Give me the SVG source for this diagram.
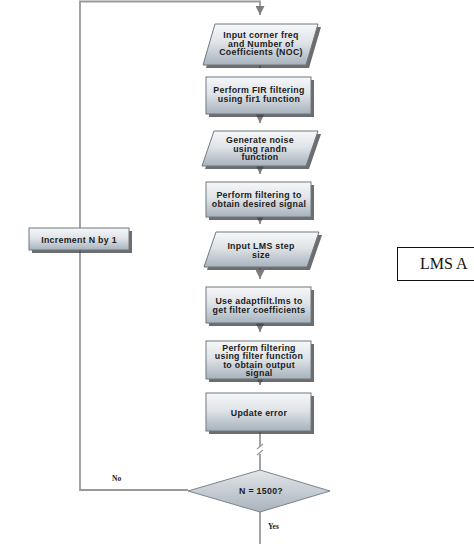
<svg xmlns="http://www.w3.org/2000/svg" width="474" height="544" viewBox="0 0 474 544">
<style>
.box{fill:url(#g);stroke:#6f7881;stroke-width:1}
.sh{fill:#3c3c3c;opacity:0.75}
.t{font-family:"Liberation Sans",Arial,sans-serif;font-weight:bold;font-size:8.8px;letter-spacing:0.3px;fill:#1c1c1c;text-anchor:middle}
.c{fill:none;stroke:#999;stroke-width:1.8}
.lbl{font-family:"Liberation Serif","Times New Roman",serif;font-weight:bold;font-size:7.5px;fill:#222}
</style>
<defs>
<linearGradient id="g" x1="0" y1="0" x2="0" y2="1">
<stop offset="0" stop-color="#f6f7f9"/>
<stop offset="0.45" stop-color="#dfe4e8"/>
<stop offset="1" stop-color="#a7b2bc"/>
</linearGradient>
<linearGradient id="gd" x1="0" y1="0" x2="0" y2="1">
<stop offset="0" stop-color="#e2e6ea"/>
<stop offset="1" stop-color="#a9b3bc"/>
</linearGradient>
<marker id="ar" markerUnits="userSpaceOnUse" markerWidth="10" markerHeight="9" refX="9" refY="4.5" orient="auto">
<path d="M0,0 L9,4.5 L0,9 Z" fill="#7d7d7d"/>
</marker>
</defs>
<rect width="474" height="544" fill="#fff"/>
<g id="connectors">
<path class="c" d="M188,490 H80 V1.5 H260 V15" marker-end="url(#ar)"/>
<path class="c" d="M260,66 V68" marker-end="url(#ar)"/>
<path class="c" d="M260,115 V123" marker-end="url(#ar)"/>
<path class="c" d="M260,167 V174" marker-end="url(#ar)"/>
<path class="c" d="M260,218 V224" marker-end="url(#ar)"/>
<path class="c" d="M260,268 V279" marker-end="url(#ar)"/>
<path class="c" d="M260,324 V332" marker-end="url(#ar)"/>
<path class="c" d="M260,380 V385" marker-end="url(#ar)"/>
<path class="c" d="M260,432 V446 M260,454 V470"/>
<path d="M257,449 L263,444 M257,455 L263,450" stroke="#999" stroke-width="1.2" fill="none"/>
<path class="c" d="M260,512 V544"/>
<text class="lbl" x="112" y="481">No</text>
<text class="lbl" x="268" y="529">Yes</text>
</g>
<g id="n1">
<polygon class="sh" points="218,27 321,27 309,68 206,68"/>
<polygon class="box" points="215,24 318,24 306,65 203,65"/>
<text class="t" x="261" y="38">Input corner freq</text>
<text class="t" x="261" y="46.5">and Number of</text>
<text class="t" x="261" y="55">Coefficients (NOC)</text>
</g>
<g id="n2">
<rect class="sh" x="209" y="80" width="105" height="37"/>
<rect class="box" x="206" y="77" width="105" height="37"/>
<text class="t" x="259" y="93">Perform FIR filtering</text>
<text class="t" x="259" y="102">using fir1 function</text>
</g>
<g id="n3">
<polygon class="sh" points="217,134 321,134 309,169 205,169"/>
<polygon class="box" points="214,131 318,131 306,166 202,166"/>
<text class="t" x="260" y="143">Generate noise</text>
<text class="t" x="260" y="151.5">using randn</text>
<text class="t" x="260" y="160">function</text>
</g>
<g id="n4">
<rect class="sh" x="209" y="185" width="105" height="35"/>
<rect class="box" x="206" y="182" width="105" height="35"/>
<text class="t" x="259" y="198">Perform filtering to</text>
<text class="t" x="259" y="207">obtain desired signal</text>
</g>
<g id="n5">
<polygon class="sh" points="219,235 322,235 310,270 207,270"/>
<polygon class="box" points="216,232 319,232 307,267 204,267"/>
<text class="t" x="261" y="249">Input LMS step</text>
<text class="t" x="261" y="258">size</text>
</g>
<g id="n6">
<rect class="sh" x="209" y="290" width="105" height="36"/>
<rect class="box" x="206" y="287" width="105" height="36"/>
<text class="t" x="259" y="304">Use adaptfilt.lms to</text>
<text class="t" x="259" y="313">get filter coefficients</text>
</g>
<g id="n7">
<rect class="sh" x="209" y="344" width="105" height="38"/>
<rect class="box" x="206" y="341" width="105" height="38"/>
<text class="t" x="259" y="350.5">Perform filtering</text>
<text class="t" x="259" y="359">using filter function</text>
<text class="t" x="259" y="367.5">to obtain output</text>
<text class="t" x="259" y="375.5">signal</text>
</g>
<g id="n8">
<rect class="sh" x="209" y="396" width="105" height="38"/>
<rect class="box" x="206" y="393" width="105" height="38"/>
<text class="t" x="259" y="416">Update error</text>
</g>
<g id="n9">
<polygon points="260,470 330,491 260,512 188,491" fill="url(#gd)" stroke="#7b848c" stroke-width="1"/>
<text class="t" x="261" y="494">N = 1500?</text>
</g>
<g id="n10">
<rect class="sh" x="32" y="231" width="100" height="22"/>
<rect class="box" x="29" y="228" width="100" height="22"/>
<text class="t" x="79" y="243">Increment N by 1</text>
</g>
<g id="n11">
<rect x="397.5" y="247.5" width="80" height="33" fill="#fff" stroke="#111" stroke-width="1"/>
<text x="420" y="269" font-family="Liberation Serif,'Times New Roman',serif" font-size="16" fill="#111">LMS A</text>
</g>
</svg>
